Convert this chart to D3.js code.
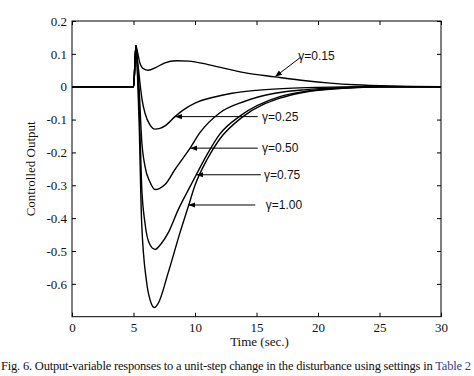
<!DOCTYPE html>
<html>
<head>
<meta charset="utf-8">
<script src="https://cdn.jsdelivr.net/npm/d3@7"></script>
<style>
body { margin: 0; background: #fff; }
svg { display: block; }
</style>
</head>
<body>
<div id="chart"></div>
<script>
// tick values and labels
const xTicks = [0, 5, 10, 15, 20, 25, 30];
const yTicks = [0.2, 0.1, 0, -0.1, -0.2, -0.3, -0.4, -0.5, -0.6];
const yTickLabels = ['0.2', '0.1', '0', '-0.1', '-0.2', '-0.3', '-0.4', '-0.5', '-0.6'];

// responses: [time, output]
const startPart = [[0, 0], [5, 0], [5.05, 0.02], [5.2, 0.125]];
const g015 = [[5.3, 0.11], [5.5, 0.075], [5.8, 0.055], [6.2, 0.05], [6.8, 0.058], [7.5, 0.072], [8.5, 0.079], [9.5, 0.078], [11, 0.068], [12.5, 0.055], [14, 0.043], [16.5, 0.03], [19, 0.018], [21, 0.011], [23, 0.006], [26, 0.002], [30, 0]];
const g025 = [[5.3, 0.09], [5.5, 0.02], [5.7, -0.04], [5.93, -0.08], [6.34, -0.116], [6.75, -0.129], [7.2, -0.126], [7.56, -0.119], [8.37, -0.091], [9, -0.072], [10, -0.05], [11.5, -0.032], [13, -0.02], [15, -0.011], [17.5, -0.005], [20, -0.002], [24, 0], [30, 0]];
const g050 = [[5.3, 0.08], [5.45, 0], [5.66, -0.16], [5.93, -0.242], [6.34, -0.29], [6.75, -0.313], [7.1, -0.31], [7.56, -0.298], [8.37, -0.252], [9.6, -0.187], [10.4, -0.14], [12, -0.08], [14, -0.045], [16.5, -0.02], [19, -0.009], [22, -0.003], [25, 0], [30, 0]];
const g075 = [[5.3, 0.07], [5.45, -0.05], [5.66, -0.3], [5.93, -0.414], [6.3, -0.478], [6.75, -0.495], [7.2, -0.48], [7.83, -0.444], [8.64, -0.374], [9.33, -0.323], [10.1, -0.268], [11, -0.205], [12, -0.145], [13.7, -0.088], [16.9, -0.03], [19, -0.014], [22, -0.004], [25, 0], [30, 0]];
const g100 = [[5.3, 0.06], [5.45, -0.1], [5.66, -0.41], [6.07, -0.596], [6.4, -0.655], [6.7, -0.672], [7.0, -0.66], [7.83, -0.565], [8.78, -0.444], [9.46, -0.364], [10, -0.3], [11, -0.22], [12, -0.16], [13.9, -0.091], [16.9, -0.035], [19, -0.016], [22, -0.005], [25, 0], [30, 0]];

const seriesNames = ['γ=0.15', 'γ=0.25', 'γ=0.50', 'γ=0.75', 'γ=1.00'];
const seriesData = [g015, g025, g050, g075, g100];

const width = 474, height = 376;
const mLeft = 72, mRight = 441, mTop = 21, mBottom = 316.7;

const svg = d3.select('#chart')
    .append('svg')
    .attr('width', width)
    .attr('height', height);

svg.append('defs').append('marker')
    .attr('id', 'head')
    .attr('viewBox', '-7 -3 8 6')
    .attr('refX', 0)
    .attr('refY', 0)
    .attr('markerWidth', 8)
    .attr('markerHeight', 6)
    .attr('markerUnits', 'userSpaceOnUse')
    .attr('orient', 'auto')
    .append('path')
    .attr('d', 'M0,0L-7,-2.6L-7,2.6Z')
    .attr('fill', '#000');

let x = d3.scaleLinear().domain([0, 30]).range([mLeft, mRight]);
let y = d3.scaleLinear().domain([-0.7, 0.2]).range([mBottom, mTop]);

let xAxis = d3.axisBottom(x).tickValues(xTicks).tickSizeInner(-4).tickSizeOuter(0).tickPadding(6);
let yAxis = d3.axisLeft(y).tickValues(yTicks).tickSizeInner(-4).tickSizeOuter(0).tickPadding(5)
    .tickFormat((d, i) => yTickLabels[i]);
let xTop = d3.axisTop(x).tickValues(xTicks).tickSizeInner(-4).tickSizeOuter(0).tickFormat('');
let yRight = d3.axisRight(y).tickValues(yTicks).tickSizeInner(-4).tickSizeOuter(0).tickFormat('');

const serif = '"Liberation Serif", "Times New Roman", serif';

function styleAxis(g) {
    g.select('.domain').remove();
    g.selectAll('line').attr('stroke', '#000');
    g.selectAll('text')
        .attr('fill', '#111')
        .style('font-family', serif)
        .style('font-size', '13px');
}

svg.append('g').attr('transform', 'translate(0,' + mBottom + ')').call(xAxis).call(styleAxis);
svg.append('g').attr('transform', 'translate(' + mLeft + ',0)').call(yAxis).call(styleAxis);
svg.append('g').attr('transform', 'translate(0,' + mTop + ')').call(xTop).call(styleAxis);
svg.append('g').attr('transform', 'translate(' + mRight + ',0)').call(yRight).call(styleAxis);

svg.append('rect')
    .attr('x', mLeft)
    .attr('y', mTop)
    .attr('width', mRight - mLeft)
    .attr('height', mBottom - mTop)
    .attr('fill', 'none')
    .attr('stroke', '#000')
    .attr('stroke-width', 1);

let line = d3.line()
    .x(d => x(d[0]))
    .y(d => y(d[1]))
    .curve(d3.curveMonotoneX);

svg.selectAll('.resp')
    .data(seriesData)
    .enter()
    .append('path')
    .attr('class', 'resp')
    .attr('d', d => line(startPart.concat(d)))
    .attr('fill', 'none')
    .attr('stroke', '#000')
    .attr('stroke-width', 1.4)
    .attr('stroke-linejoin', 'round');

// annotations: arrow tip sits on a curve point, tail and label in data units
const notes = [
    { i: 0, tip: [16.5, 0.03], tail: [18.6, 0.09], lx: 18.4, ly: 0.093 },
    { i: 1, tip: [8.37, -0.091], tail: [15.1, -0.091], lx: 15.45, ly: -0.091 },
    { i: 2, tip: [9.6, -0.187], tail: [15.1, -0.187], lx: 15.45, ly: -0.187 },
    { i: 3, tip: [10.1, -0.268], tail: [15.35, -0.268], lx: 15.6, ly: -0.268 },
    { i: 4, tip: [9.46, -0.36], tail: [14.9, -0.36], lx: 15.75, ly: -0.36 }
];

svg.selectAll('.arrow')
    .data(notes)
    .enter()
    .append('line')
    .attr('class', 'arrow')
    .attr('x1', d => x(d.tail[0]))
    .attr('y1', d => y(d.tail[1]))
    .attr('x2', d => x(d.tip[0]))
    .attr('y2', d => y(d.tip[1]))
    .attr('stroke', '#000')
    .attr('stroke-width', 1)
    .attr('marker-end', 'url(#head)');

svg.selectAll('.lab')
    .data(notes)
    .enter()
    .append('text')
    .attr('class', 'lab')
    .attr('x', d => x(d.lx))
    .attr('y', d => y(d.ly) + 4)
    .style('font-family', '"Liberation Sans", Arial, sans-serif')
    .style('font-size', '12px')
    .attr('fill', '#111')
    .text(d => seriesNames[d.i]);

svg.append('text')
    .attr('x', (mLeft + mRight) / 2 + 3)
    .attr('y', 346)
    .attr('text-anchor', 'middle')
    .style('font-family', serif)
    .style('font-size', '13px')
    .attr('fill', '#111')
    .text('Time (sec.)');

svg.append('text')
    .attr('transform', 'translate(35,' + (mTop + mBottom) / 2 + ') rotate(-90)')
    .attr('text-anchor', 'middle')
    .style('font-family', serif)
    .style('font-size', '13px')
    .attr('fill', '#111')
    .text('Controlled Output');

let caption = svg.append('text')
    .attr('x', 1)
    .attr('y', 370)
    .attr('textLength', 470)
    .attr('lengthAdjust', 'spacing')
    .style('font-family', serif)
    .style('font-size', '12.5px')
    .attr('fill', '#111');
caption.append('tspan').text('Fig. 6. Output-variable responses to a unit-step change in the disturbance using settings in ');
caption.append('tspan').attr('fill', '#2b3f94').text('Table 2');
</script>
</body>
</html>
